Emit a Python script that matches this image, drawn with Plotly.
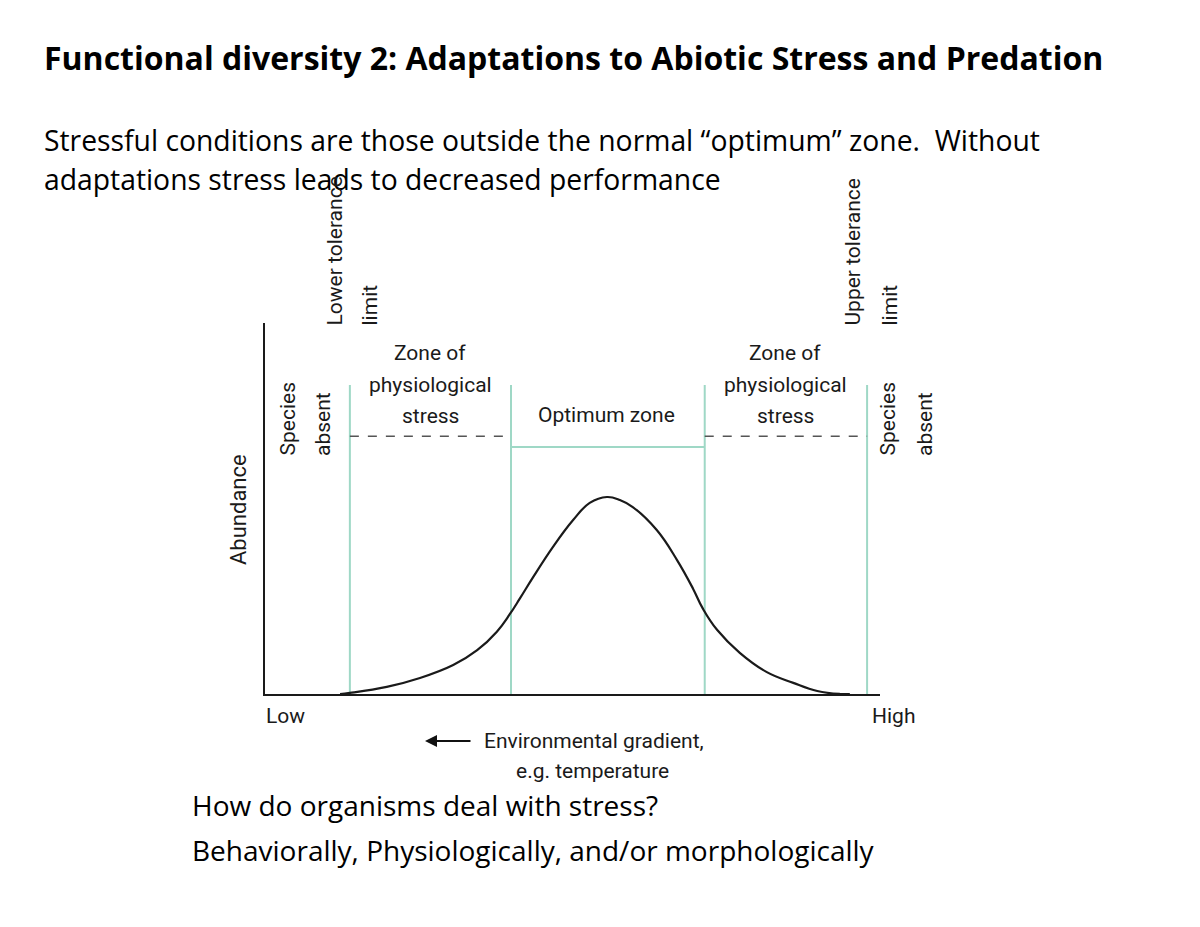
import plotly.graph_objects as go

W, H = 1200, 927

# Data: environmental gradient (0-100) vs abundance (0-100)
gradient = [12.2, 13.8, 19.8, 25.2, 30.6, 34.5, 37.7, 39.8, 41.5, 43.6, 46.8, 50.1, 52.8,
            55.6, 57.7, 59.8, 63.7, 67.0, 69.6, 71.2, 73.5, 77.2, 81.6, 85.9, 89.8, 93.5, 95.1]
abundance = [0, 0.3, 1.9, 4.3, 7.8, 11.8, 16.8, 21.5, 25.9, 31.5, 39.6, 46.9, 51.5,
             53.1, 52.3, 50.4, 44.2, 36.1, 28.4, 23.0, 17.3, 11.1, 5.9, 3.0, 0.8, 0, 0]

# Zone boundaries (gradient units) and heights (abundance units)
tolerance_limits = [13.8, 97.9]
optimum_limits = [40.0, 71.5]
boundary_top = 83.3
optimum_top = 66.6
stress_line_level = 69.5

GREEN = "#9fd8c6"
DIAG = "Roboto, sans-serif"
BODY = "Open Sans, sans-serif"
DTXT = "#1a1a1a"

fig = go.Figure()

# all zone boundary lines (tolerance and optimum)
for xv in tolerance_limits + optimum_limits:
    fig.add_trace(go.Scatter(x=[xv, xv], y=[0, boundary_top], mode="lines",
                             line=dict(color=GREEN, width=2), hoverinfo="skip"))
# optimum zone top bar
fig.add_trace(go.Scatter(x=optimum_limits, y=[optimum_top] * 2, mode="lines",
                         line=dict(color=GREEN, width=2), hoverinfo="skip"))
# dashed stress zone lines
fig.add_trace(go.Scatter(x=[tolerance_limits[0], optimum_limits[0]], y=[stress_line_level] * 2,
                         mode="lines", line=dict(color="#555555", width=1.5, dash="dash"),
                         hoverinfo="skip"))
fig.add_trace(go.Scatter(x=[optimum_limits[1], tolerance_limits[1]], y=[stress_line_level] * 2,
                         mode="lines", line=dict(color="#555555", width=1.5, dash="dash"),
                         hoverinfo="skip"))
# abundance curve
fig.add_trace(go.Scatter(x=gradient, y=abundance, mode="lines",
                         line=dict(color="#1a1a1a", width=2.2, shape="spline", smoothing=1.2),
                         hoverinfo="skip"))

x0, x1 = 265 / W, 880 / W
y0, y1 = 1 - 694 / H, 1 - 323 / H

fig.update_layout(
    width=W, height=H, margin=dict(l=0, r=0, t=0, b=0),
    paper_bgcolor="white", plot_bgcolor="white", showlegend=False,
    xaxis=dict(domain=[x0, x1], range=[0, 100], showgrid=False, zeroline=False,
               showticklabels=False, ticks="", showline=True, linecolor="#1a1a1a", linewidth=2),
    yaxis=dict(domain=[y0, y1], range=[0, 100], showgrid=False, zeroline=False,
               showticklabels=False, ticks="", showline=True, linecolor="#1a1a1a", linewidth=2),
)


def P(px, py):
    return px / W, 1 - py / H


anns = []


def txt(px, py, text, size, font=BODY, color="#000000", xanchor="center", yanchor="middle",
        angle=0, bold=False):
    x, y = P(px, py)
    if bold:
        text = "<b>" + text + "</b>"
    anns.append(dict(x=x, y=y, xref="paper", yref="paper", text=text, showarrow=False,
                     font=dict(family=font, size=size, color=color), xanchor=xanchor,
                     yanchor=yanchor, textangle=angle))


# slide texts
txt(42, 57, "Functional diversity 2: Adaptations to Abiotic Stress and Predation", 32,
    xanchor="left", bold=True)
txt(42, 140, "Stressful conditions are those outside the normal \u201coptimum\u201d zone.  Without", 28.3,
    xanchor="left")
txt(42, 179, "adaptations stress leads to decreased performance", 28.3, xanchor="left")
txt(190, 805, "How do organisms deal with stress?", 28, xanchor="left")
txt(190, 850, "Behaviorally, Physiologically, and/or morphologically", 28, xanchor="left")

DS = 21
# diagram texts
txt(238, 510, "Abundance", DS + 1, font=DIAG, color=DTXT, angle=-90)
for xx, s in [(287, "Species"), (323, "absent"), (887, "Species"), (925, "absent")]:
    txt(xx, 458, s, DS, font=DIAG, color=DTXT, angle=-90, yanchor="bottom")
for xx, s in [(335, "Lower tolerance"), (370, "limit"), (853, "Upper tolerance"), (890, "limit")]:
    txt(xx, 328, s, DS, font=DIAG, color=DTXT, angle=-90, yanchor="bottom")
for cx in (430, 785):
    for yy, s in [(353, "Zone of"), (385, "physiological"), (416, "stress")]:
        txt(cx, yy, s, DS, font=DIAG, color=DTXT)
txt(606, 415, "Optimum zone", DS, font=DIAG, color=DTXT)
txt(285, 716, "Low", DS, font=DIAG, color=DTXT)
txt(893, 716, "High", DS, font=DIAG, color=DTXT)
txt(482, 741, "Environmental gradient,", DS, font=DIAG, color=DTXT, xanchor="left")
txt(592, 771, "e.g. temperature", DS, font=DIAG, color=DTXT)

# arrow
ax_, ay_ = P(425, 741)
anns.append(dict(x=ax_, y=ay_, xref="paper", yref="paper", ax=47, ay=0, axref="pixel",
                 ayref="pixel", showarrow=True, arrowhead=2, arrowsize=1.2, arrowwidth=2,
                 arrowcolor="#111111", text=""))

fig.update_layout(annotations=anns)
fig.write_html("out.html")
